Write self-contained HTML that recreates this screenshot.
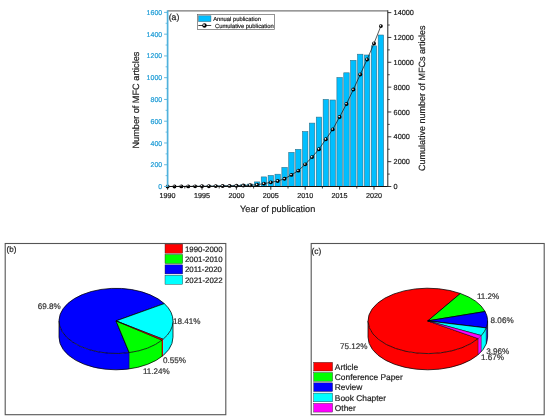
<!DOCTYPE html>
<html><head><meta charset="utf-8"><title>MFC publication statistics</title>
<style>html,body{margin:0;padding:0;background:#fff;} svg{display:block;filter:blur(0.35px);} text{stroke-width:0.2px;}</style></head>
<body><svg width="550" height="420" viewBox="0 0 550 420" font-family='"Liberation Sans", Arial, sans-serif' text-rendering="geometricPrecision">
<rect width="550" height="420" fill="#fff"/>
<rect x="178.64" y="186.17" width="5.43" height="0.33" fill="#00bfff" stroke="#2f6a80" stroke-width="0.55"/>
<rect x="185.53" y="186.17" width="5.43" height="0.33" fill="#00bfff" stroke="#2f6a80" stroke-width="0.55"/>
<rect x="192.41" y="186.06" width="5.43" height="0.44" fill="#00bfff" stroke="#2f6a80" stroke-width="0.55"/>
<rect x="199.28" y="185.96" width="5.43" height="0.54" fill="#00bfff" stroke="#2f6a80" stroke-width="0.55"/>
<rect x="206.16" y="185.85" width="5.43" height="0.65" fill="#00bfff" stroke="#2f6a80" stroke-width="0.55"/>
<rect x="213.04" y="185.74" width="5.43" height="0.76" fill="#00bfff" stroke="#2f6a80" stroke-width="0.55"/>
<rect x="219.92" y="185.63" width="5.43" height="0.87" fill="#00bfff" stroke="#2f6a80" stroke-width="0.55"/>
<rect x="226.80" y="185.41" width="5.43" height="1.09" fill="#00bfff" stroke="#2f6a80" stroke-width="0.55"/>
<rect x="233.68" y="185.19" width="5.43" height="1.31" fill="#00bfff" stroke="#2f6a80" stroke-width="0.55"/>
<rect x="240.56" y="184.76" width="5.43" height="1.74" fill="#00bfff" stroke="#2f6a80" stroke-width="0.55"/>
<rect x="247.44" y="184.11" width="5.43" height="2.39" fill="#00bfff" stroke="#2f6a80" stroke-width="0.55"/>
<rect x="254.32" y="181.90" width="5.43" height="4.60" fill="#00bfff" stroke="#2f6a80" stroke-width="0.55"/>
<rect x="261.20" y="176.90" width="5.43" height="9.60" fill="#00bfff" stroke="#2f6a80" stroke-width="0.55"/>
<rect x="268.09" y="175.40" width="5.43" height="11.10" fill="#00bfff" stroke="#2f6a80" stroke-width="0.55"/>
<rect x="274.97" y="174.20" width="5.43" height="12.30" fill="#00bfff" stroke="#2f6a80" stroke-width="0.55"/>
<rect x="281.85" y="167.40" width="5.43" height="19.10" fill="#00bfff" stroke="#2f6a80" stroke-width="0.55"/>
<rect x="288.73" y="152.30" width="5.43" height="34.20" fill="#00bfff" stroke="#2f6a80" stroke-width="0.55"/>
<rect x="295.61" y="149.30" width="5.43" height="37.20" fill="#00bfff" stroke="#2f6a80" stroke-width="0.55"/>
<rect x="302.49" y="131.50" width="5.43" height="55.00" fill="#00bfff" stroke="#2f6a80" stroke-width="0.55"/>
<rect x="309.37" y="123.10" width="5.43" height="63.40" fill="#00bfff" stroke="#2f6a80" stroke-width="0.55"/>
<rect x="316.25" y="117.10" width="5.43" height="69.40" fill="#00bfff" stroke="#2f6a80" stroke-width="0.55"/>
<rect x="323.13" y="99.40" width="5.43" height="87.10" fill="#00bfff" stroke="#2f6a80" stroke-width="0.55"/>
<rect x="330.01" y="100.00" width="5.43" height="86.50" fill="#00bfff" stroke="#2f6a80" stroke-width="0.55"/>
<rect x="336.89" y="77.50" width="5.43" height="109.00" fill="#00bfff" stroke="#2f6a80" stroke-width="0.55"/>
<rect x="343.77" y="72.80" width="5.43" height="113.70" fill="#00bfff" stroke="#2f6a80" stroke-width="0.55"/>
<rect x="350.65" y="60.30" width="5.43" height="126.20" fill="#00bfff" stroke="#2f6a80" stroke-width="0.55"/>
<rect x="357.53" y="54.20" width="5.43" height="132.30" fill="#00bfff" stroke="#2f6a80" stroke-width="0.55"/>
<rect x="364.41" y="55.00" width="5.43" height="131.50" fill="#00bfff" stroke="#2f6a80" stroke-width="0.55"/>
<rect x="371.29" y="45.80" width="5.43" height="140.70" fill="#00bfff" stroke="#2f6a80" stroke-width="0.55"/>
<rect x="378.17" y="35.00" width="5.43" height="151.50" fill="#00bfff" stroke="#2f6a80" stroke-width="0.55"/>
<polyline points="167.60,186.48 174.48,186.45 181.36,186.41 188.24,186.38 195.12,186.33 202.00,186.26 208.88,186.19 215.76,186.10 222.64,186.00 229.52,185.88 236.40,185.73 243.28,185.53 250.16,185.26 257.04,184.73 263.92,183.64 270.80,182.37 277.68,180.97 284.56,178.79 291.44,174.88 298.32,170.63 305.20,164.36 312.08,157.12 318.96,149.20 325.84,139.25 332.72,129.38 339.60,116.94 346.48,103.96 353.36,89.55 360.24,74.45 367.12,59.44 374.00,43.38 380.88,26.08" fill="none" stroke="#111" stroke-width="0.7"/>
<circle cx="167.60" cy="186.48" r="1.95" fill="#000"/><circle cx="167.15" cy="186.13" r="0.8" fill="#fff"/><circle cx="174.48" cy="186.45" r="1.95" fill="#000"/><circle cx="174.03" cy="186.10" r="0.8" fill="#fff"/><circle cx="181.36" cy="186.41" r="1.95" fill="#000"/><circle cx="180.91" cy="186.06" r="0.8" fill="#fff"/><circle cx="188.24" cy="186.38" r="1.95" fill="#000"/><circle cx="187.79" cy="186.03" r="0.8" fill="#fff"/><circle cx="195.12" cy="186.33" r="1.95" fill="#000"/><circle cx="194.67" cy="185.98" r="0.8" fill="#fff"/><circle cx="202.00" cy="186.26" r="1.95" fill="#000"/><circle cx="201.55" cy="185.91" r="0.8" fill="#fff"/><circle cx="208.88" cy="186.19" r="1.95" fill="#000"/><circle cx="208.43" cy="185.84" r="0.8" fill="#fff"/><circle cx="215.76" cy="186.10" r="1.95" fill="#000"/><circle cx="215.31" cy="185.75" r="0.8" fill="#fff"/><circle cx="222.64" cy="186.00" r="1.95" fill="#000"/><circle cx="222.19" cy="185.65" r="0.8" fill="#fff"/><circle cx="229.52" cy="185.88" r="1.95" fill="#000"/><circle cx="229.07" cy="185.53" r="0.8" fill="#fff"/><circle cx="236.40" cy="185.73" r="1.95" fill="#000"/><circle cx="235.95" cy="185.38" r="0.8" fill="#fff"/><circle cx="243.28" cy="185.53" r="1.95" fill="#000"/><circle cx="242.83" cy="185.18" r="0.8" fill="#fff"/><circle cx="250.16" cy="185.26" r="1.95" fill="#000"/><circle cx="249.71" cy="184.91" r="0.8" fill="#fff"/><circle cx="257.04" cy="184.73" r="1.95" fill="#000"/><circle cx="256.59" cy="184.38" r="0.8" fill="#fff"/><circle cx="263.92" cy="183.64" r="1.95" fill="#000"/><circle cx="263.47" cy="183.29" r="0.8" fill="#fff"/><circle cx="270.80" cy="182.37" r="1.95" fill="#000"/><circle cx="270.35" cy="182.02" r="0.8" fill="#fff"/><circle cx="277.68" cy="180.97" r="1.95" fill="#000"/><circle cx="277.23" cy="180.62" r="0.8" fill="#fff"/><circle cx="284.56" cy="178.79" r="1.95" fill="#000"/><circle cx="284.11" cy="178.44" r="0.8" fill="#fff"/><circle cx="291.44" cy="174.88" r="1.95" fill="#000"/><circle cx="290.99" cy="174.53" r="0.8" fill="#fff"/><circle cx="298.32" cy="170.63" r="1.95" fill="#000"/><circle cx="297.87" cy="170.28" r="0.8" fill="#fff"/><circle cx="305.20" cy="164.36" r="1.95" fill="#000"/><circle cx="304.75" cy="164.01" r="0.8" fill="#fff"/><circle cx="312.08" cy="157.12" r="1.95" fill="#000"/><circle cx="311.63" cy="156.77" r="0.8" fill="#fff"/><circle cx="318.96" cy="149.20" r="1.95" fill="#000"/><circle cx="318.51" cy="148.85" r="0.8" fill="#fff"/><circle cx="325.84" cy="139.25" r="1.95" fill="#000"/><circle cx="325.39" cy="138.90" r="0.8" fill="#fff"/><circle cx="332.72" cy="129.38" r="1.95" fill="#000"/><circle cx="332.27" cy="129.03" r="0.8" fill="#fff"/><circle cx="339.60" cy="116.94" r="1.95" fill="#000"/><circle cx="339.15" cy="116.59" r="0.8" fill="#fff"/><circle cx="346.48" cy="103.96" r="1.95" fill="#000"/><circle cx="346.03" cy="103.61" r="0.8" fill="#fff"/><circle cx="353.36" cy="89.55" r="1.95" fill="#000"/><circle cx="352.91" cy="89.20" r="0.8" fill="#fff"/><circle cx="360.24" cy="74.45" r="1.95" fill="#000"/><circle cx="359.79" cy="74.10" r="0.8" fill="#fff"/><circle cx="367.12" cy="59.44" r="1.95" fill="#000"/><circle cx="366.67" cy="59.09" r="0.8" fill="#fff"/><circle cx="374.00" cy="43.38" r="1.95" fill="#000"/><circle cx="373.55" cy="43.03" r="0.8" fill="#fff"/><circle cx="380.88" cy="26.08" r="1.95" fill="#000"/><circle cx="380.43" cy="25.73" r="0.8" fill="#fff"/>
<line x1="167.6" y1="10.8" x2="387.8" y2="10.8" stroke="#777" stroke-width="1.2"/>
<line x1="167.6" y1="186.5" x2="387.8" y2="186.5" stroke="#111" stroke-width="1"/>
<line x1="167.6" y1="10.3" x2="167.6" y2="187.0" stroke="#50b2dc" stroke-width="1.7"/>
<line x1="387.8" y1="10.3" x2="387.8" y2="187.0" stroke="#222" stroke-width="1"/>
<line x1="167.60" y1="186.5" x2="167.60" y2="189.7" stroke="#111" stroke-width="0.9"/><line x1="202.00" y1="186.5" x2="202.00" y2="189.7" stroke="#111" stroke-width="0.9"/><line x1="236.40" y1="186.5" x2="236.40" y2="189.7" stroke="#111" stroke-width="0.9"/><line x1="270.80" y1="186.5" x2="270.80" y2="189.7" stroke="#111" stroke-width="0.9"/><line x1="305.20" y1="186.5" x2="305.20" y2="189.7" stroke="#111" stroke-width="0.9"/><line x1="339.60" y1="186.5" x2="339.60" y2="189.7" stroke="#111" stroke-width="0.9"/><line x1="374.00" y1="186.5" x2="374.00" y2="189.7" stroke="#111" stroke-width="0.9"/><line x1="184.80" y1="186.5" x2="184.80" y2="188.5" stroke="#111" stroke-width="0.8"/><line x1="219.20" y1="186.5" x2="219.20" y2="188.5" stroke="#111" stroke-width="0.8"/><line x1="253.60" y1="186.5" x2="253.60" y2="188.5" stroke="#111" stroke-width="0.8"/><line x1="288.00" y1="186.5" x2="288.00" y2="188.5" stroke="#111" stroke-width="0.8"/><line x1="322.40" y1="186.5" x2="322.40" y2="188.5" stroke="#111" stroke-width="0.8"/><line x1="356.80" y1="186.5" x2="356.80" y2="188.5" stroke="#111" stroke-width="0.8"/>
<g font-size="7.2" fill="#222" stroke="#222"><text x="167.60" y="198.4" text-anchor="middle">1990</text><text x="202.00" y="198.4" text-anchor="middle">1995</text><text x="236.40" y="198.4" text-anchor="middle">2000</text><text x="270.80" y="198.4" text-anchor="middle">2005</text><text x="305.20" y="198.4" text-anchor="middle">2010</text><text x="339.60" y="198.4" text-anchor="middle">2015</text><text x="374.00" y="198.4" text-anchor="middle">2020</text></g>
<text x="277.7" y="212.3" text-anchor="middle" font-size="9.2" fill="#222" stroke="#222">Year of publication</text>
<line x1="164.10" y1="186.50" x2="167.6" y2="186.50" stroke="#50b2dc" stroke-width="0.9"/><line x1="165.60" y1="175.62" x2="167.6" y2="175.62" stroke="#50b2dc" stroke-width="0.8"/><line x1="164.10" y1="164.74" x2="167.6" y2="164.74" stroke="#50b2dc" stroke-width="0.9"/><line x1="165.60" y1="153.86" x2="167.6" y2="153.86" stroke="#50b2dc" stroke-width="0.8"/><line x1="164.10" y1="142.97" x2="167.6" y2="142.97" stroke="#50b2dc" stroke-width="0.9"/><line x1="165.60" y1="132.09" x2="167.6" y2="132.09" stroke="#50b2dc" stroke-width="0.8"/><line x1="164.10" y1="121.21" x2="167.6" y2="121.21" stroke="#50b2dc" stroke-width="0.9"/><line x1="165.60" y1="110.33" x2="167.6" y2="110.33" stroke="#50b2dc" stroke-width="0.8"/><line x1="164.10" y1="99.45" x2="167.6" y2="99.45" stroke="#50b2dc" stroke-width="0.9"/><line x1="165.60" y1="88.57" x2="167.6" y2="88.57" stroke="#50b2dc" stroke-width="0.8"/><line x1="164.10" y1="77.69" x2="167.6" y2="77.69" stroke="#50b2dc" stroke-width="0.9"/><line x1="165.60" y1="66.81" x2="167.6" y2="66.81" stroke="#50b2dc" stroke-width="0.8"/><line x1="164.10" y1="55.93" x2="167.6" y2="55.93" stroke="#50b2dc" stroke-width="0.9"/><line x1="165.60" y1="45.04" x2="167.6" y2="45.04" stroke="#50b2dc" stroke-width="0.8"/><line x1="164.10" y1="34.16" x2="167.6" y2="34.16" stroke="#50b2dc" stroke-width="0.9"/><line x1="165.60" y1="23.28" x2="167.6" y2="23.28" stroke="#50b2dc" stroke-width="0.8"/><line x1="164.10" y1="12.40" x2="167.6" y2="12.40" stroke="#50b2dc" stroke-width="0.9"/>
<g font-size="7.0" fill="#1e9cd6" stroke="#1e9cd6"><text x="162.2" y="189.05" text-anchor="end">0</text><text x="162.2" y="167.29" text-anchor="end">200</text><text x="162.2" y="145.53" text-anchor="end">400</text><text x="162.2" y="123.76" text-anchor="end">600</text><text x="162.2" y="102.00" text-anchor="end">800</text><text x="162.2" y="80.24" text-anchor="end">1000</text><text x="162.2" y="58.48" text-anchor="end">1200</text><text x="162.2" y="36.71" text-anchor="end">1400</text><text x="162.2" y="14.95" text-anchor="end">1600</text></g>
<text transform="translate(139,100.1) rotate(-90)" text-anchor="middle" font-size="9.2" fill="#222" stroke="#222">Number of MFC articles</text>
<line x1="387.8" y1="186.50" x2="391.30" y2="186.50" stroke="#222" stroke-width="0.9"/><line x1="387.8" y1="174.08" x2="389.80" y2="174.08" stroke="#222" stroke-width="0.8"/><line x1="387.8" y1="161.66" x2="391.30" y2="161.66" stroke="#222" stroke-width="0.9"/><line x1="387.8" y1="149.24" x2="389.80" y2="149.24" stroke="#222" stroke-width="0.8"/><line x1="387.8" y1="136.81" x2="391.30" y2="136.81" stroke="#222" stroke-width="0.9"/><line x1="387.8" y1="124.39" x2="389.80" y2="124.39" stroke="#222" stroke-width="0.8"/><line x1="387.8" y1="111.97" x2="391.30" y2="111.97" stroke="#222" stroke-width="0.9"/><line x1="387.8" y1="99.55" x2="389.80" y2="99.55" stroke="#222" stroke-width="0.8"/><line x1="387.8" y1="87.13" x2="391.30" y2="87.13" stroke="#222" stroke-width="0.9"/><line x1="387.8" y1="74.71" x2="389.80" y2="74.71" stroke="#222" stroke-width="0.8"/><line x1="387.8" y1="62.29" x2="391.30" y2="62.29" stroke="#222" stroke-width="0.9"/><line x1="387.8" y1="49.86" x2="389.80" y2="49.86" stroke="#222" stroke-width="0.8"/><line x1="387.8" y1="37.44" x2="391.30" y2="37.44" stroke="#222" stroke-width="0.9"/><line x1="387.8" y1="25.02" x2="389.80" y2="25.02" stroke="#222" stroke-width="0.8"/><line x1="387.8" y1="12.60" x2="391.30" y2="12.60" stroke="#222" stroke-width="0.9"/>
<g font-size="7.3" fill="#222" stroke="#222"><text x="393.6" y="189.10">0</text><text x="393.6" y="164.26">2000</text><text x="393.6" y="139.41">4000</text><text x="393.6" y="114.57">6000</text><text x="393.6" y="89.73">8000</text><text x="393.6" y="64.89">10000</text><text x="393.6" y="40.04">12000</text><text x="393.6" y="15.20">14000</text></g>
<text transform="translate(425.0,98.2) rotate(-90)" text-anchor="middle" font-size="9.0" fill="#222" stroke="#222">Cumulative number of MFCs articles</text>
<text x="168.7" y="19.6" font-size="8.7" fill="#222" stroke="#222">(a)</text>
<rect x="197.4" y="14.5" width="77.2" height="15" fill="#fff" stroke="#666" stroke-width="0.7"/>
<rect x="198.6" y="15.8" width="12.3" height="5.7" fill="#00bfff" stroke="#2f6a80" stroke-width="0.55"/>
<line x1="198.3" y1="25.5" x2="211.2" y2="25.5" stroke="#111" stroke-width="0.8"/>
<circle cx="204.5" cy="25.5" r="2.2" fill="#000"/><circle cx="204" cy="25.1" r="0.9" fill="#fff"/>
<text x="213.2" y="20.7" font-size="5.85" fill="#222" stroke="#222">Annual publication</text>
<text x="215" y="27.6" font-size="5.85" fill="#222" stroke="#222">Cumulative publication</text>
<rect x="5.2" y="243.5" width="220.6" height="171.2" fill="none" stroke="#555" stroke-width="1.1"/>
<text x="6.5" y="251.8" font-size="8.1" fill="#222" stroke="#222">(b)</text>
<path d="M163.14,339.22 A57.0,32.6 0 0 1 162.01,340.14 L162.01,356.44 A57.0,32.6 0 0 0 163.14,355.52 Z" fill="#ff0000"/>
<path d="M162.01,340.14 A57.0,32.6 0 0 1 129.17,352.62 L129.17,368.92 A57.0,32.6 0 0 0 162.01,356.44 Z" fill="#00ff00"/>
<path d="M129.17,352.62 A57.0,32.6 0 0 1 59.00,320.90 L59.00,337.20 A57.0,32.6 0 0 0 129.17,368.92 Z" fill="#0000ff"/>
<path d="M173.00,320.90 A57.0,32.6 0 0 1 163.14,339.22 L163.14,355.52 A57.0,32.6 0 0 0 173.00,337.20 Z" fill="#00ffff"/>
<path d="M173.00,320.90 L173.00,337.20 A57.0,32.6 0 0 1 59.00,337.20 L59.00,320.90" fill="none" stroke="#000" stroke-width="0.75"/>
<line x1="162.01" y1="340.14" x2="162.01" y2="356.44" stroke="#000" stroke-width="0.45"/>
<line x1="129.17" y1="352.62" x2="129.17" y2="368.92" stroke="#000" stroke-width="0.45"/>
<path d="M116,320.9 L129.17,352.62 A57.0,32.6 0 1 1 164.30,303.59 Z" fill="#0000ff" stroke="#000" stroke-width="0.75" stroke-linejoin="round"/>
<path d="M116,320.9 L164.30,303.59 A57.0,32.6 0 0 1 163.14,339.22 Z" fill="#00ffff" stroke="#000" stroke-width="0.75" stroke-linejoin="round"/>
<path d="M116,320.9 L162.01,340.14 A57.0,32.6 0 0 1 129.17,352.62 Z" fill="#00ff00" stroke="#000" stroke-width="0.75" stroke-linejoin="round"/>
<path d="M116,320.9 L163.14,339.22 A57.0,32.6 0 0 1 162.01,340.14 Z" fill="#ff0000" stroke="#000" stroke-width="0.4" stroke-linejoin="round"/>
<rect x="165" y="244.10" width="17.7" height="9.1" fill="#ff0000" stroke="#222" stroke-width="0.4"/>
<text x="185.0" y="251.65" font-size="7.85" fill="#222" stroke="#222">1990-2000</text>
<rect x="165" y="254.47" width="17.7" height="9.1" fill="#00ff00" stroke="#222" stroke-width="0.4"/>
<text x="185.0" y="262.02" font-size="7.85" fill="#222" stroke="#222">2001-2010</text>
<rect x="165" y="264.84" width="17.7" height="9.1" fill="#0000ff" stroke="#222" stroke-width="0.4"/>
<text x="185.0" y="272.39" font-size="7.85" fill="#222" stroke="#222">2011-2020</text>
<rect x="165" y="275.21" width="17.7" height="9.1" fill="#00ffff" stroke="#222" stroke-width="0.4"/>
<text x="185.0" y="282.76" font-size="7.85" fill="#222" stroke="#222">2021-2022</text>
<g font-size="8.1" fill="#333" stroke="#333"><text x="37.8" y="309.1">69.8%</text><text x="173.1" y="323.7">18.41%</text><text x="162.9" y="363">0.55%</text><text x="142.9" y="373.9">11.24%</text></g>
<rect x="311.2" y="243.5" width="233" height="171.2" fill="none" stroke="#555" stroke-width="1.1"/>
<text x="311.5" y="253.8" font-size="8.4" fill="#222" stroke="#222">(c)</text>
<path d="M478.18,338.52 A59.8,32.7 0 0 1 368.00,320.90 L368.00,337.10 A59.8,32.7 0 0 0 478.18,354.72 Z" fill="#ff0000"/>
<path d="M487.60,320.90 A59.8,32.7 0 0 1 486.21,327.90 L486.21,344.10 A59.8,32.7 0 0 0 487.60,337.10 Z" fill="#0000ff"/>
<path d="M486.21,327.90 A59.8,32.7 0 0 1 481.26,335.55 L481.26,351.75 A59.8,32.7 0 0 0 486.21,344.10 Z" fill="#00ffff"/>
<path d="M481.26,335.55 A59.8,32.7 0 0 1 478.16,338.54 L478.16,354.74 A59.8,32.7 0 0 0 481.26,351.75 Z" fill="#ff00ff"/>
<path d="M487.60,320.90 L487.60,337.10 A59.8,32.7 0 0 1 368.00,337.10 L368.00,320.90" fill="none" stroke="#000" stroke-width="0.75"/>
<line x1="478.18" y1="338.52" x2="478.18" y2="354.72" stroke="#000" stroke-width="0.45"/>
<line x1="486.21" y1="327.90" x2="486.21" y2="344.10" stroke="#000" stroke-width="0.45"/>
<line x1="481.26" y1="335.55" x2="481.26" y2="351.75" stroke="#000" stroke-width="0.45"/>
<path d="M427.8,320.9 L478.18,338.52 A59.8,32.7 0 1 1 460.40,293.49 Z" fill="#ff0000" stroke="#000" stroke-width="0.75" stroke-linejoin="round"/>
<path d="M427.8,320.9 L460.40,293.49 A59.8,32.7 0 0 1 485.09,311.53 Z" fill="#00ff00" stroke="#000" stroke-width="0.75" stroke-linejoin="round"/>
<path d="M427.8,320.9 L485.09,311.53 A59.8,32.7 0 0 1 486.21,327.90 Z" fill="#0000ff" stroke="#000" stroke-width="0.75" stroke-linejoin="round"/>
<path d="M427.8,320.9 L486.21,327.90 A59.8,32.7 0 0 1 481.26,335.55 Z" fill="#00ffff" stroke="#000" stroke-width="0.75" stroke-linejoin="round"/>
<path d="M427.8,320.9 L481.26,335.55 A59.8,32.7 0 0 1 478.16,338.54 Z" fill="#ff00ff" stroke="#000" stroke-width="0.4" stroke-linejoin="round"/>
<rect x="313.7" y="362.30" width="18.9" height="8.7" fill="#ff0000" stroke="#222" stroke-width="0.4"/>
<text x="334.8" y="369.80" font-size="8.4" fill="#222" stroke="#222">Article</text>
<rect x="313.7" y="372.57" width="18.9" height="8.7" fill="#00ff00" stroke="#222" stroke-width="0.4"/>
<text x="334.8" y="380.07" font-size="8.4" fill="#222" stroke="#222">Conference Paper</text>
<rect x="313.7" y="382.84" width="18.9" height="8.7" fill="#0000ff" stroke="#222" stroke-width="0.4"/>
<text x="334.8" y="390.34" font-size="8.4" fill="#222" stroke="#222">Review</text>
<rect x="313.7" y="393.11" width="18.9" height="8.7" fill="#00ffff" stroke="#222" stroke-width="0.4"/>
<text x="334.8" y="400.61" font-size="8.4" fill="#222" stroke="#222">Book Chapter</text>
<rect x="313.7" y="403.38" width="18.9" height="8.7" fill="#ff00ff" stroke="#222" stroke-width="0.4"/>
<text x="334.8" y="410.88" font-size="8.4" fill="#222" stroke="#222">Other</text>
<g font-size="8.15" fill="#333" stroke="#333"><text x="340" y="348.8">75.12%</text><text x="476.9" y="299.4">11.2%</text><text x="490.6" y="322.6">8.06%</text><text x="486.2" y="354">3.96%</text><text x="481" y="360.4">1.67%</text></g>
</svg></body></html>
